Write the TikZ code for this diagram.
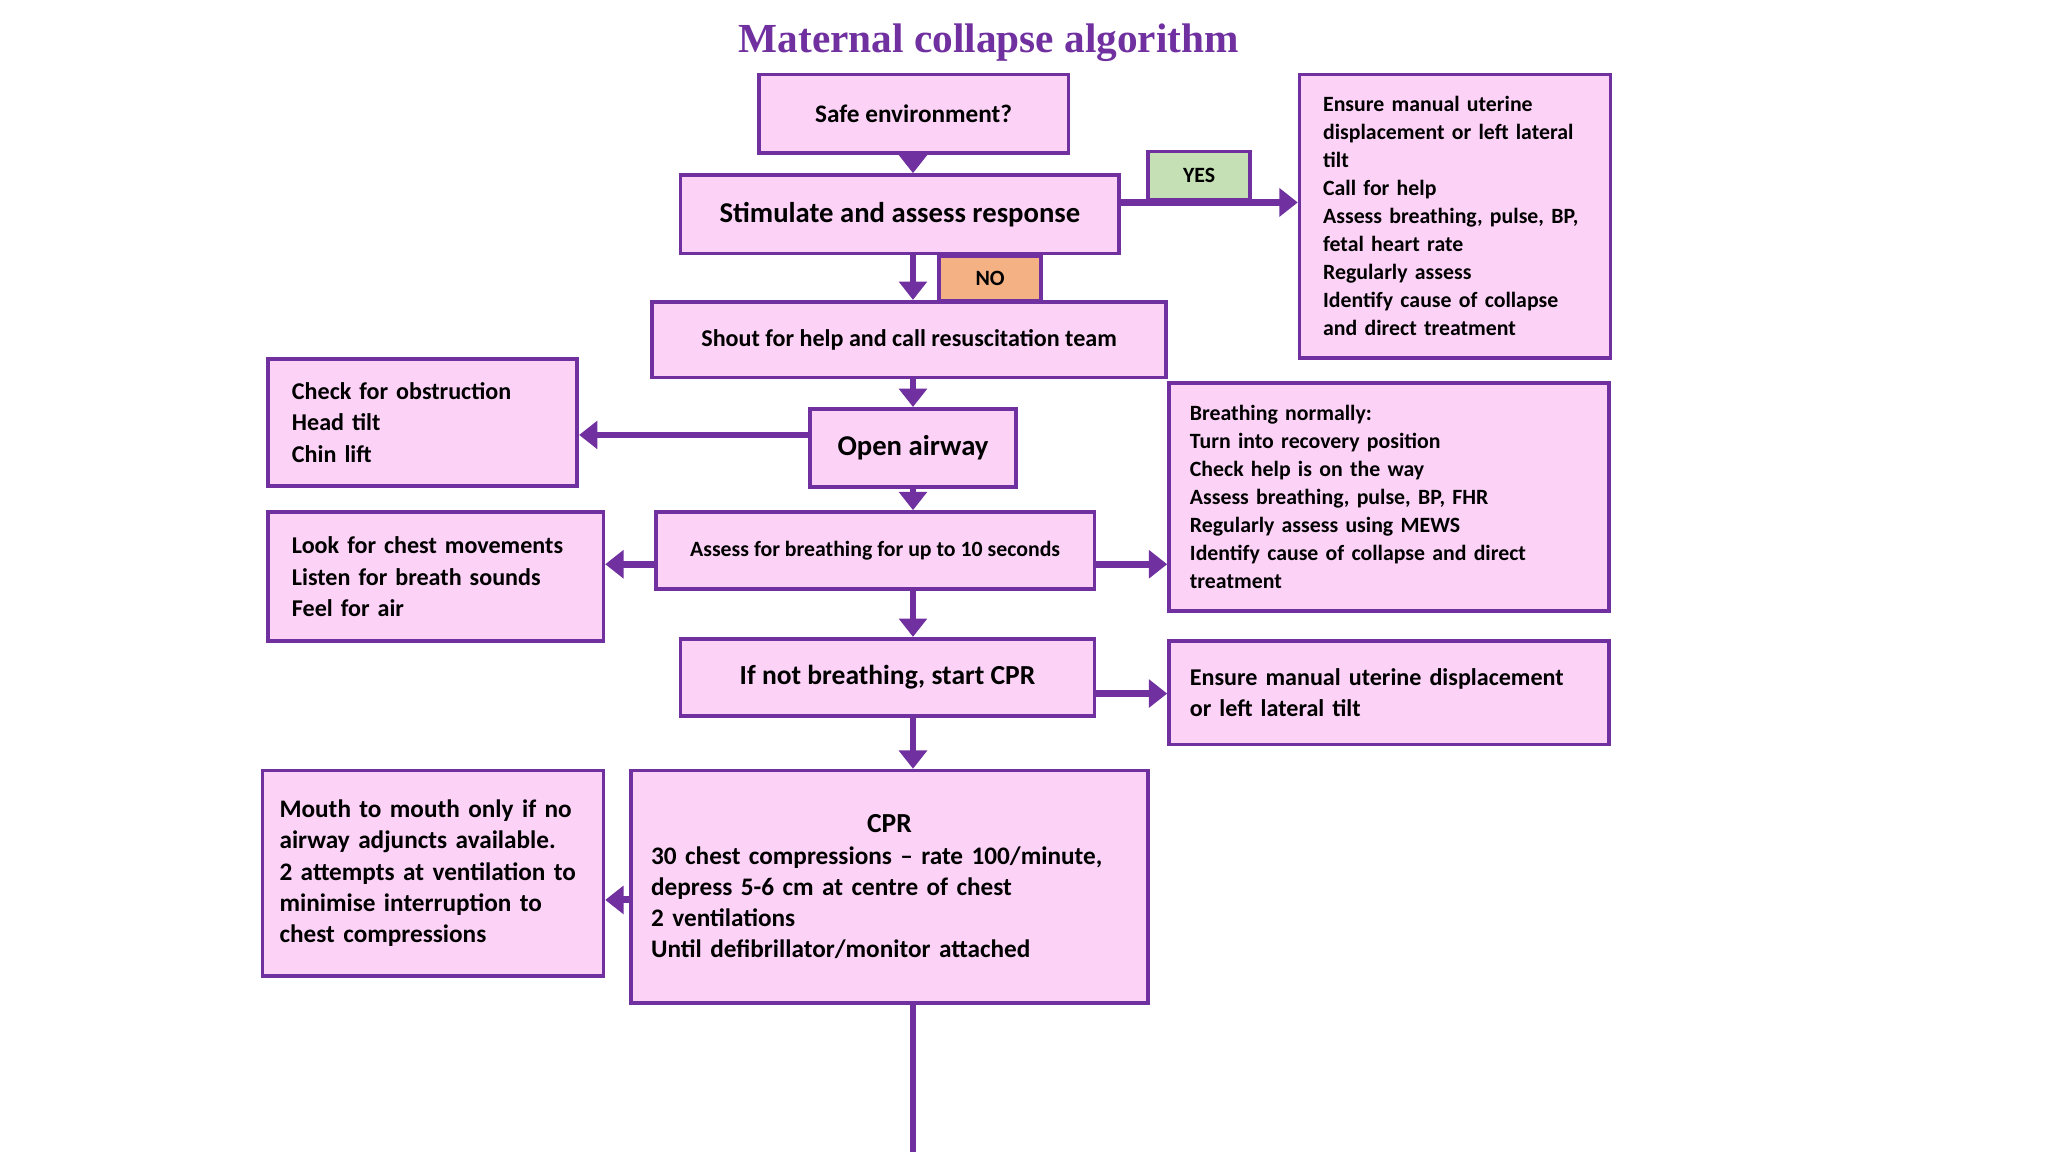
\documentclass[tikz,border=0pt]{standalone}
\usepackage{fontspec}
\setmainfont{Carlito}
\newfontfamily\titlefont{Liberation Serif}
\usetikzlibrary{arrows.meta}
\definecolor{mpurple}{HTML}{7030A0}
\definecolor{mpink}{HTML}{FCD3F7}
\definecolor{myes}{HTML}{C5E0B4}
\definecolor{mno}{HTML}{F4B183}
\tikzset{
  box/.style={draw=mpurple, line width=1.6pt, fill=mpink, font=\bfseries, inner sep=0pt},
  tbox/.style={box, align=left, text width=#1},
  arr/.style={draw=mpurple, line width=3pt, -{Triangle[length=8pt,width=12pt]}},
  stem/.style={draw=mpurple, line width=3pt}
}
\begin{document}
\hyphenpenalty=10000
\begin{tikzpicture}[x=0.02cm,y=-0.02cm]
\useasboundingbox (0,0) rectangle (1568,882);
\node[text=mpurple, font=\titlefont\bfseries\fontsize{18}{22}\selectfont] (title) at (757,33) {Maternal collapse algorithm};

\node[box, minimum width=4.74cm, minimum height=1.2cm, font=\bfseries\fontsize{11}{13}\selectfont] (safe) at (699.5,87) {Safe environment?};
\node[box, minimum width=6.72cm, minimum height=1.2cm, font=\bfseries\fontsize{12.5}{15}\selectfont] (stim) at (689,164) {Stimulate and assess response};
\node[box, fill=myes, minimum width=1.56cm, minimum height=0.74cm, font=\bfseries\fontsize{9.5}{11}\selectfont] (yes) at (918,134.5) {YES};
\node[box, fill=mno, minimum width=1.56cm, minimum height=0.68cm, font=\bfseries\fontsize{9.5}{11}\selectfont] (no) at (758,213) {NO};
\node[tbox=4.04cm, minimum width=4.76cm, minimum height=4.34cm, font=\bfseries\fontsize{9.5}{12.2}\selectfont] (right1) at (1114,165.5)
 {Ensure manual uterine\\displacement or left lateral\\tilt\\Call for help\\Assess breathing, pulse, BP,\\fetal heart rate\\Regularly assess\\Identify cause of collapse\\and direct treatment};
\node[box, minimum width=7.88cm, minimum height=1.16cm, font=\bfseries\fontsize{10.5}{13}\selectfont] (shout) at (696,260) {Shout for help and call resuscitation team};
\node[tbox=4.0cm, minimum width=4.74cm, minimum height=1.94cm, font=\bfseries\fontsize{10.5}{13.6}\selectfont] (check) at (323.5,323.5)
 {Check for obstruction\\Head tilt\\Chin lift};
\node[box, minimum width=3.16cm, minimum height=1.2cm, font=\bfseries\fontsize{12.5}{15}\selectfont] (airway) at (699,343) {Open airway};
\node[tbox=6.1cm, minimum width=6.74cm, minimum height=3.5cm, font=\bfseries\fontsize{9.5}{12.2}\selectfont] (norm) at (1063.5,380.5)
 {Breathing normally:\\Turn into recovery position\\Check help is on the way\\Assess breathing, pulse, BP, FHR\\Regularly assess using MEWS\\Identify cause of collapse and direct\\treatment};
\node[box, minimum width=6.72cm, minimum height=1.18cm, font=\bfseries\fontsize{9.5}{12}\selectfont] (assess) at (670,421.5) {Assess for breathing for up to 10 seconds};
\node[tbox=4.4cm, minimum width=5.14cm, minimum height=1.98cm, font=\bfseries\fontsize{10.5}{13.6}\selectfont] (look) at (333.5,441.5)
 {Look for chest movements\\Listen for breath sounds\\Feel for air};
\node[box, minimum width=6.34cm, minimum height=1.18cm, font=\bfseries\fontsize{12}{14}\selectfont] (cpr1) at (679.5,518.5) {If not breathing, start CPR};
\node[tbox=6.1cm, minimum width=6.74cm, minimum height=1.58cm, font=\bfseries\fontsize{10.5}{13.6}\selectfont] (ensure) at (1063.5,530.5)
 {Ensure manual uterine displacement\\or left lateral tilt};
\node[tbox=7.3cm, minimum width=7.92cm, minimum height=3.56cm, font=\bfseries\fontsize{11}{13.6}\selectfont] (cpr) at (681,679)
 {\makebox[\linewidth]{\fontsize{12}{14}\selectfont CPR}\\30 chest compressions -- rate 100/minute,\\depress 5-6 cm at centre of chest\\2 ventilations\\Until defibrillator/monitor attached};
\node[tbox=4.7cm, minimum width=5.22cm, minimum height=3.14cm, font=\bfseries\fontsize{11}{13.6}\selectfont] (mouth) at (331.5,668.5)
 {Mouth to mouth only if no\\airway adjuncts available.\\2 attempts at ventilation to\\minimise interruption to\\chest compressions};

\coordinate (ax) at (699,0);
\coordinate (bot) at (699,882);
\draw[arr] (safe.south -| ax) -- (stim.north -| ax);
\draw[arr] (stim.south -| ax) -- (shout.north -| ax);
\draw[arr] (stim.east |- 0,155) -- (right1.west |- 0,155);
\draw[arr] (shout.south -| ax) -- (airway.north -| ax);
\draw[arr] (airway.west |- 0,333) -- (check.east |- 0,333);
\draw[arr] (airway.south -| ax) -- (assess.north -| ax);
\draw[arr] (assess.west |- 0,432) -- (look.east |- 0,432);
\draw[arr] (assess.east |- 0,432) -- (norm.west |- 0,432);
\draw[arr] (assess.south -| ax) -- (cpr1.north -| ax);
\draw[arr] (cpr1.east |- 0,531) -- (ensure.west |- 0,531);
\draw[arr] (cpr1.south -| ax) -- (cpr.north -| ax);
\draw[arr] (cpr.west |- 0,689) -- (mouth.east |- 0,689);
\draw[stem] (cpr.south -| ax) -- (bot);
\end{tikzpicture}
\end{document}
